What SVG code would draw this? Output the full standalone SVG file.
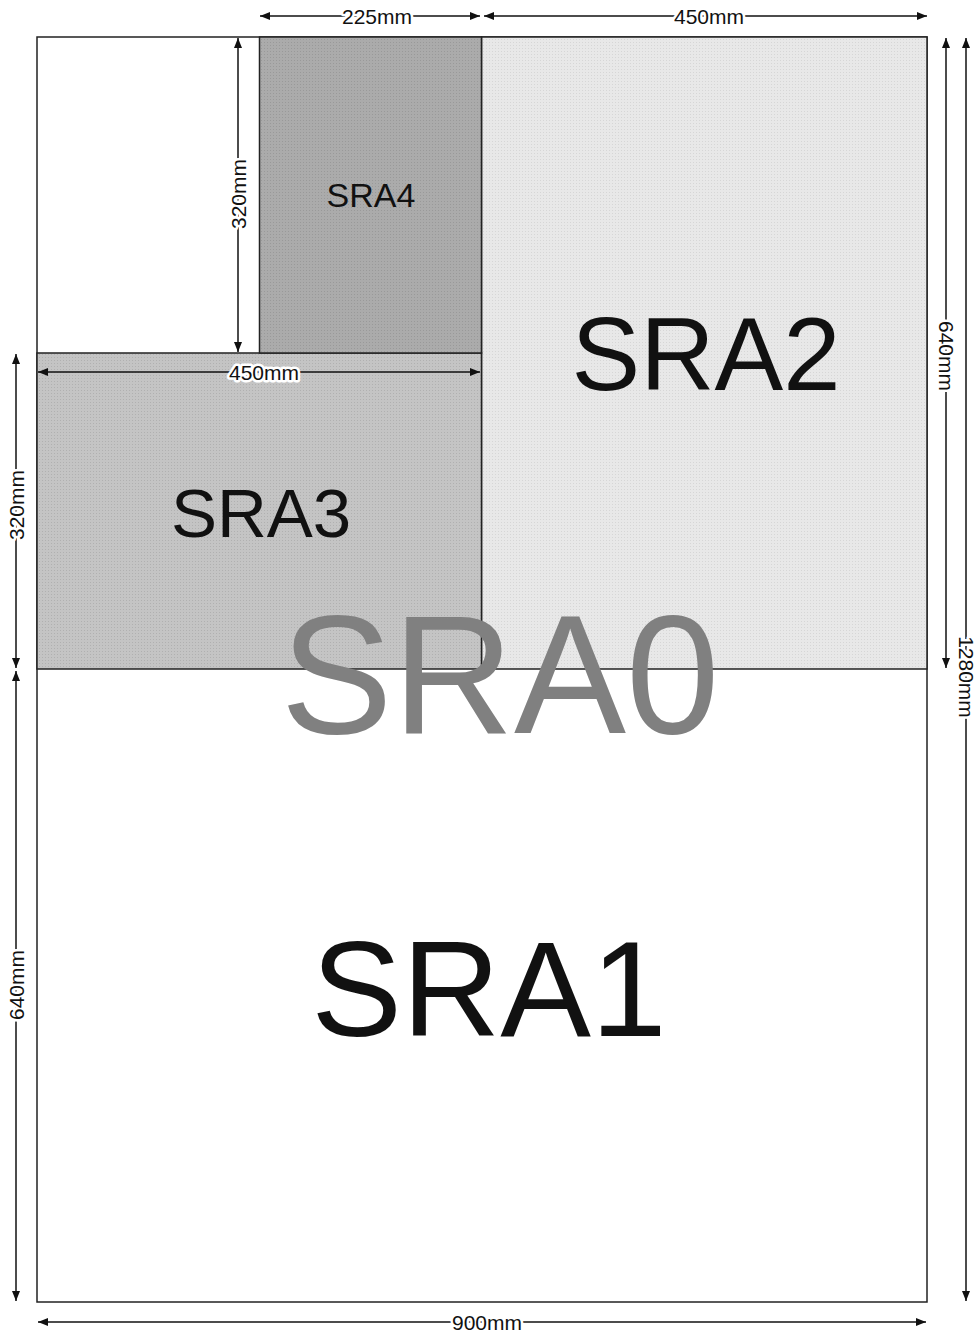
<svg xmlns="http://www.w3.org/2000/svg" width="980" height="1332" viewBox="0 0 980 1332">
<style>
.sheet{stroke:#222;stroke-width:1.5}
.big{font-family:"Liberation Sans",Arial,sans-serif;text-anchor:middle}
.dim{stroke:#111;stroke-width:1.5;fill:none;marker-start:url(#ah);marker-end:url(#ah)}
.dl{font-family:"Liberation Sans",Arial,sans-serif;font-size:21px;fill:#111;text-anchor:middle;dominant-baseline:central;paint-order:stroke;stroke:#fff;stroke-width:5px;stroke-linejoin:round}
</style>
<defs>
<marker id="ah" viewBox="0 0 10 8" refX="10" refY="4" markerWidth="10" markerHeight="8" markerUnits="userSpaceOnUse" orient="auto-start-reverse">
<path d="M0,0 L10,4 L0,8 Z" fill="#111"/>
</marker>
<pattern id="p2" width="3" height="3" patternUnits="userSpaceOnUse"><rect width="3" height="3" fill="#e8e8e8"/><rect width="1" height="1" fill="#d6d6d6"/></pattern>
<pattern id="p3" width="3" height="3" patternUnits="userSpaceOnUse"><rect width="3" height="3" fill="#c4c4c4"/><rect width="1" height="1" fill="#b0b0b0"/></pattern>
<pattern id="p4" width="3" height="3" patternUnits="userSpaceOnUse"><rect width="3" height="3" fill="#ababab"/><rect width="1" height="1" fill="#999"/></pattern>
</defs>
<rect width="980" height="1332" fill="#fff"/>
<g id="SRA0"><rect class="sheet" x="37" y="37" width="890" height="1265" fill="#fff"/></g>
<g id="SRA1"><text class="big" x="489" y="1036" font-size="136" fill="#111">SRA1</text></g>
<g id="SRA2"><rect class="sheet" x="481.5" y="37" width="445.5" height="632" fill="url(#p2)"/><text class="big" x="706" y="390" font-size="103" fill="#111">SRA2</text></g>
<g id="SRA3"><rect class="sheet" x="37" y="353" width="444.5" height="316" fill="url(#p3)"/><text class="big" x="261" y="537" font-size="69" fill="#111">SRA3</text></g>
<g id="SRA4"><rect class="sheet" x="259.5" y="37" width="222" height="316" fill="url(#p4)"/><text class="big" x="371" y="207" font-size="34" fill="#111">SRA4</text></g>
<g id="SRA0-label"><text class="big" x="500" y="733" font-size="168" fill="#808080">SRA0</text></g>
<g id="connectors">
<line class="dim" x1="260" y1="16" x2="480" y2="16"/>
<line class="dim" x1="484" y1="16" x2="927" y2="16"/>
<line class="dim" x1="946" y1="38" x2="946" y2="668"/>
<line class="dim" x1="966" y1="38" x2="966" y2="1301"/>
<line class="dim" x1="238" y1="38" x2="238" y2="352"/>
<line class="dim" x1="16" y1="354" x2="16" y2="668"/>
<line class="dim" x1="16" y1="671" x2="16" y2="1301"/>
<line class="dim" x1="38" y1="372" x2="480" y2="372"/>
<line class="dim" x1="38" y1="1322" x2="926" y2="1322"/>
</g>
<g id="dimension-labels">
<text class="dl" x="377" y="16">225mm</text>
<text class="dl" x="709" y="16">450mm</text>
<text class="dl" x="264" y="372">450mm</text>
<text class="dl" x="487" y="1322">900mm</text>
<text class="dl" transform="translate(946,356) rotate(90)">640mm</text>
<text class="dl" transform="translate(966,677) rotate(90)">1280mm</text>
<text class="dl" transform="translate(238,194) rotate(-90)">320mm</text>
<text class="dl" transform="translate(16,505) rotate(-90)">320mm</text>
<text class="dl" transform="translate(16,985) rotate(-90)">640mm</text>
</g>
</svg>
